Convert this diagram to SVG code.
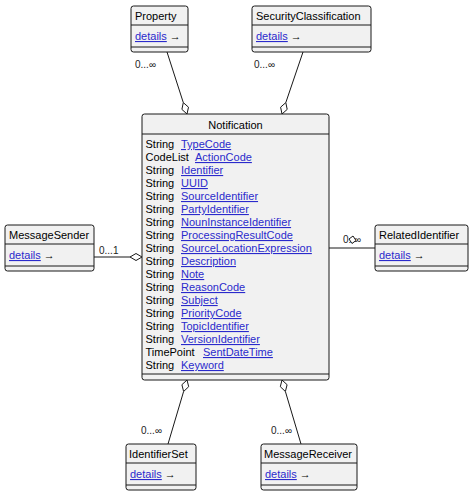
<svg xmlns="http://www.w3.org/2000/svg" width="474" height="495" viewBox="0 0 474 495">
<style>
text{font-family:"Liberation Sans",Arial,sans-serif;font-size:11px;fill:#000}
.box{fill:#f1f1f1;stroke:#181818;stroke-width:1}
.sep{stroke:#181818;stroke-width:1}
.lnk{fill:#2a2acc;text-decoration:underline}
.lbl{font-size:10px;fill:#222}
.edge{stroke:#181818;stroke-width:1;fill:none}
.dia{fill:#fff;stroke:#181818;stroke-width:1}
</style>
<rect width="474" height="495" fill="#fff"/>
<g id="connectors">
  <line class="edge" x1="167" y1="52" x2="183.3" y2="102.6"/>
  <polygon class="dia" points="187,114 188.5,107.2 183.3,102.6 181.9,109.4"/>
  <text class="lbl" x="135" y="68">0...∞</text>
  <line class="edge" x1="303" y1="52" x2="285.8" y2="102.6"/>
  <polygon class="dia" points="282,114 287.2,109.4 285.8,102.6 280.6,107.2"/>
  <text class="lbl" x="254" y="68">0...∞</text>
  <line class="edge" x1="94" y1="257" x2="130" y2="257"/>
  <polygon class="dia" points="142,257 136,253.5 130,257 136,260.5"/>
  <text class="lbl" x="99" y="254">0...1</text>
  <line class="edge" x1="329" y1="248" x2="375" y2="248"/>
  <text class="lbl" x="343" y="243">0..∞</text>
  <polygon class="dia" points="353,236 356,240.5 352,243.5 349,239"/>
  <line class="edge" x1="168" y1="444" x2="183.6" y2="391.5"/>
  <polygon class="dia" points="187,380 188.7,386.7 183.6,391.5 181.9,384.7"/>
  <text class="lbl" x="141" y="434">0...∞</text>
  <line class="edge" x1="301" y1="444" x2="285.4" y2="391.5"/>
  <polygon class="dia" points="282,380 287.1,384.7 285.4,391.5 280.3,386.7"/>
  <text class="lbl" x="271" y="434">0...∞</text>
</g>
<g id="Property">
  <rect class="box" x="131" y="6" width="57" height="46" rx="2.5"/>
  <line class="sep" x1="131" y1="25" x2="188" y2="25"/>
  <line class="sep" x1="131" y1="47" x2="188" y2="47"/>
  <text x="135" y="20">Property</text>
  <text x="135" y="40"><tspan class="lnk">details</tspan> →</text>
</g>
<g id="SecurityClassification">
  <rect class="box" x="252" y="6" width="119" height="46" rx="2.5"/>
  <line class="sep" x1="252" y1="25" x2="371" y2="25"/>
  <line class="sep" x1="252" y1="47" x2="371" y2="47"/>
  <text x="256" y="20">SecurityClassification</text>
  <text x="256" y="40"><tspan class="lnk">details</tspan> →</text>
</g>
<g id="MessageSender">
  <rect class="box" x="5" y="225" width="89" height="46" rx="2.5"/>
  <line class="sep" x1="5" y1="244" x2="94" y2="244"/>
  <line class="sep" x1="5" y1="266" x2="94" y2="266"/>
  <text x="9" y="239">MessageSender</text>
  <text x="9" y="259"><tspan class="lnk">details</tspan> →</text>
</g>
<g id="RelatedIdentifier">
  <rect class="box" x="375" y="225" width="93" height="46" rx="2.5"/>
  <line class="sep" x1="375" y1="244" x2="468" y2="244"/>
  <line class="sep" x1="375" y1="266" x2="468" y2="266"/>
  <text x="379" y="239">RelatedIdentifier</text>
  <text x="379" y="259"><tspan class="lnk">details</tspan> →</text>
</g>
<g id="IdentifierSet">
  <rect class="box" x="126" y="444" width="70" height="46" rx="2.5"/>
  <line class="sep" x1="126" y1="463" x2="196" y2="463"/>
  <line class="sep" x1="126" y1="485" x2="196" y2="485"/>
  <text x="129" y="458">IdentifierSet</text>
  <text x="130" y="478"><tspan class="lnk">details</tspan> →</text>
</g>
<g id="MessageReceiver">
  <rect class="box" x="261" y="444" width="96" height="46" rx="2.5"/>
  <line class="sep" x1="261" y1="463" x2="357" y2="463"/>
  <line class="sep" x1="261" y1="485" x2="357" y2="485"/>
  <text x="264" y="458">MessageReceiver</text>
  <text x="265" y="478"><tspan class="lnk">details</tspan> →</text>
</g>
<g id="Notification">
  <rect class="box" x="142" y="114" width="187" height="266" rx="2.5"/>
  <line class="sep" x1="142" y1="134" x2="329" y2="134"/>
  <line class="sep" x1="142" y1="374" x2="329" y2="374"/>
  <text x="235.5" y="129" text-anchor="middle">Notification</text>
  <text x="145.5" y="148">String <tspan class="lnk" x="181">TypeCode</tspan></text>
  <text x="145.5" y="161">CodeList <tspan class="lnk" x="195">ActionCode</tspan></text>
  <text x="145.5" y="174">String <tspan class="lnk" x="181">Identifier</tspan></text>
  <text x="145.5" y="187">String <tspan class="lnk" x="181">UUID</tspan></text>
  <text x="145.5" y="200">String <tspan class="lnk" x="181">SourceIdentifier</tspan></text>
  <text x="145.5" y="213">String <tspan class="lnk" x="181">PartyIdentifier</tspan></text>
  <text x="145.5" y="226">String <tspan class="lnk" x="181">NounInstanceIdentifier</tspan></text>
  <text x="145.5" y="239">String <tspan class="lnk" x="181">ProcessingResultCode</tspan></text>
  <text x="145.5" y="252">String <tspan class="lnk" x="181">SourceLocationExpression</tspan></text>
  <text x="145.5" y="265">String <tspan class="lnk" x="181">Description</tspan></text>
  <text x="145.5" y="278">String <tspan class="lnk" x="181">Note</tspan></text>
  <text x="145.5" y="291">String <tspan class="lnk" x="181">ReasonCode</tspan></text>
  <text x="145.5" y="304">String <tspan class="lnk" x="181">Subject</tspan></text>
  <text x="145.5" y="317">String <tspan class="lnk" x="181">PriorityCode</tspan></text>
  <text x="145.5" y="330">String <tspan class="lnk" x="181">TopicIdentifier</tspan></text>
  <text x="145.5" y="343">String <tspan class="lnk" x="181">VersionIdentifier</tspan></text>
  <text x="145.5" y="356">TimePoint <tspan class="lnk" x="203">SentDateTime</tspan></text>
  <text x="145.5" y="369">String <tspan class="lnk" x="181">Keyword</tspan></text>
</g>
</svg>
